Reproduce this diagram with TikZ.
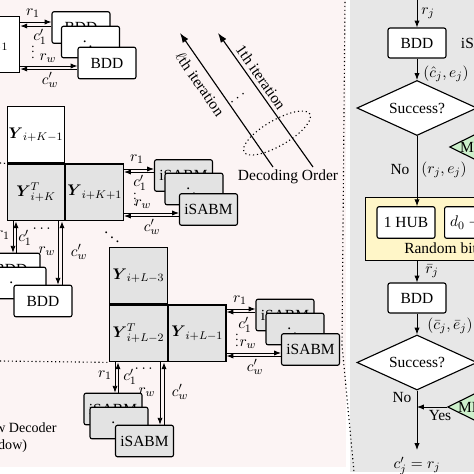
\documentclass[tikz,border=0pt]{standalone}
\usepackage{amsmath}
\usepackage{fontspec}
\setmainfont{Liberation Serif}
\usetikzlibrary{arrows.meta, positioning, shapes.geometric, calc}
\definecolor{bgpink}{HTML}{FCF4F4}
\definecolor{panelgray}{HTML}{E7E7E7}
\definecolor{blockgray}{HTML}{E3E3E3}
\definecolor{hubyellow}{HTML}{FFF6C8}
\definecolor{mdgreen}{HTML}{CCEFCB}

\begin{document}
\begin{tikzpicture}[x=0.025cm, y=-0.025cm,
    every node/.style={align=center, font=\fontsize{11}{13}\selectfont},
    yblk/.style={draw, thick, fill=blockgray, minimum width=1.44cm,
                 minimum height=1.42cm, inner sep=0},
    bdd/.style={draw, thick, rounded corners=1.5pt, fill=white,
                minimum width=1.45cm, minimum height=0.79cm, inner sep=0},
    sabm/.style={bdd, fill=blockgray},
    dec/.style={draw, thick, shape=diamond, aspect=2.2, fill=white,
                minimum width=3cm, minimum height=1.375cm, inner sep=0},
    mdec/.style={draw, thick, shape=diamond, aspect=2, fill=mdgreen,
                 minimum width=1.3cm, minimum height=0.65cm, inner sep=0},
    win/.style={dotted, thick},
    lbl/.style={inner sep=1pt},
    dts/.style={inner sep=0, font=\small},
    arr/.style={-{Latex[length=1.7mm, width=1.3mm]}, semithick}
]
    \useasboundingbox (0,0) rectangle (474,474);
    \clip (0,0) rectangle (474,474);

    % Backgrounds
    \fill[bgpink] (-5,-5) rectangle (346,467);
    \fill[panelgray] (350,-5) rectangle (480,472);

    % Previous window block (cut at left)
    \node[yblk, fill=white] (y0) at (-9,44.5) {$\boldsymbol{Y}_{i-1}$};

    % BDD stack, top
    \node[bdd] (bA1) at (81,27.5) {BDD};
    \node[bdd] (bA2) at (90.5,42) {$\ddots$};
    \node[bdd] (bA3) at (107,63) {BDD};

    \draw[arr] (y0.east |- 0,22) -- (bA1.west |- 0,22);
    \draw[arr] (bA1.west |- 0,26) -- (y0.east |- 0,26);
    \draw[arr] (y0.east |- 0,66) -- (bA3.west |- 0,66);
    \draw[arr] (bA3.west |- 0,69) -- (y0.east |- 0,69);
    \node[lbl] at (33,13) {$r_1$};
    \node[lbl] at (40,37) {$c'_1$};
    \node[dts] at (33,48) {$\vdots$};
    \node[lbl] at (48,58) {$r_w$};
    \node[lbl] at (50,80) {$c'_w$};

    % Group 1: blocks of window K
    \node[yblk, fill=white] (yA) at (36,134.5) {$\boldsymbol{Y}_{i+K-1}$};
    \node[yblk, below=0pt of yA] (yAT) {$\boldsymbol{Y}^T_{i+K}$};
    \node[yblk, right=0pt of yAT] (yAR) {$\boldsymbol{Y}_{i+K+1}$};
    \draw[win] (0,163) -- (yAT.north west);

    % iSABM stack, group 1
    \node[sabm] (sA1) at (183.5,175.5) {iSABM};
    \node[sabm] (sA2) at (194,189) {$\ddots$};
    \node[sabm] (sA3) at (208.5,209.5) {iSABM};

    \draw[arr] (yAR.east |- 0,169) -- (sA1.west |- 0,169);
    \draw[arr] (sA1.west |- 0,172) -- (yAR.east |- 0,172);
    \draw[arr] (yAR.east |- 0,213) -- (sA3.west |- 0,213);
    \draw[arr] (sA3.west |- 0,216) -- (yAR.east |- 0,216);
    \node[lbl] at (137,159) {$r_1$};
    \node[lbl] at (140,183) {$c'_1$};
    \node[dts] at (135,195) {$\vdots$};
    \node[lbl] at (143,204) {$r_w$};
    \node[lbl] at (152,227) {$c'_w$};

    % BDD stack below group 1
    \node[bdd] (bB1) at (11,269) {BDD};
    \node[bdd] (bB2) at (17,283) {$\ddots$};
    \node[bdd] (bB3) at (43,301) {BDD};

    \draw[arr] (yAT.south -| 13,0) -- (bB1.north -| 13,0);
    \draw[arr] (bB1.north -| 16,0) -- (yAT.south -| 16,0);
    \draw[arr] (yAT.south -| 58,0) -- (bB3.north -| 58,0);
    \draw[arr] (bB3.north -| 62,0) -- (yAT.south -| 62,0);
    \node[lbl] at (3,235) {$r_1$};
    \node[lbl] at (25,238) {$c'_1$};
    \node[lbl] at (43,229) {$\cdots$};
    \node[lbl] at (47,251) {$r_w$};
    \node[lbl] at (79,252) {$c'_w$};

    \node[lbl] at (112,233) {$\ddots$};

    % Group 2: blocks of window L
    \node[yblk] (yB) at (138.5,275.5) {$\boldsymbol{Y}_{i+L-3}$};
    \node[yblk, below=0pt of yB] (yBT) {$\boldsymbol{Y}^T_{i+L-2}$};
    \node[yblk, right=0pt of yBT] (yBR) {$\boldsymbol{Y}_{i+L-1}$};
    \draw[win] (0,361) -- (yBT.south west);

    % iSABM stack, group 2 right
    \node[sabm] (sB1) at (285,315) {iSABM};
    \node[sabm] (sB2) at (295,329) {$\ddots$};
    \node[sabm] (sB3) at (310.5,349.5) {iSABM};

    \draw[arr] (yBR.east |- 0,309) -- (sB1.west |- 0,309);
    \draw[arr] (sB1.west |- 0,312) -- (yBR.east |- 0,312);
    \draw[arr] (yBR.east |- 0,353) -- (sB3.west |- 0,353);
    \draw[arr] (sB3.west |- 0,356) -- (yBR.east |- 0,356);
    \node[lbl] at (240,300) {$r_1$};
    \node[lbl] at (245,325) {$c'_1$};
    \node[dts] at (237,336) {$\vdots$};
    \node[lbl] at (248,344) {$r_w$};
    \node[lbl] at (255,367) {$c'_w$};

    % iSABM stack, group 2 below
    \node[sabm] (sC1) at (113,409) {iSABM};
    \node[sabm] (sC2) at (119,423) {$\ddots$};
    \node[sabm] (sC3) at (144.5,441) {iSABM};

    \draw[arr] (yBT.south -| 115,0) -- (sC1.north -| 115,0);
    \draw[arr] (sC1.north -| 118,0) -- (yBT.south -| 118,0);
    \draw[arr] (yBT.south -| 160,0) -- (sC3.north -| 160,0);
    \draw[arr] (sC3.north -| 164,0) -- (yBT.south -| 164,0);
    \node[lbl] at (105,375) {$r_1$};
    \node[lbl] at (130,377) {$c'_1$};
    \node[lbl] at (145,369) {$\cdots$};
    \node[lbl] at (147,392) {$r_w$};
    \node[lbl] at (180,392) {$c'_w$};

    \node[font=\fontsize{10}{12}\selectfont] (swd) at (-15,438)
          {Sliding Window Decoder\\(One Window)};

    % Decoding order
    \coordinate (itLs) at (273,167);
    \coordinate (itLe) at (180,33);
    \coordinate (it1s) at (313,167);
    \coordinate (it1e) at (218,33);
    \draw[-{Latex[length=2.4mm, width=1.7mm]}, thick] (itLs) -- (itLe);
    \draw[-{Latex[length=2.4mm, width=1.7mm]}, thick] (it1s) -- (it1e);
    \node[rotate=-55.2] at (200,84) {$\ell$th iteration};
    \node[rotate=-55.2] at (261,77) {1th iteration};
    \node[rotate=35] at (239,98) {$\cdots$};
    \node[draw, win, ellipse, minimum width=1.9cm, minimum height=0.64cm,
          rotate=30] (ordring) at (277,133) {};
    \node (ordtxt) at (288,177) {Decoding Order};

    % Zoom lines
    \draw[win] (345,-2) -- (342,345) -- (354,472);

    % iSABM flowchart
    \coordinate (rin) at (417,-5);
    \node[bdd, minimum height=0.75cm] (bR1) at (417,43) {BDD};
    \node[anchor=west] (ttl) at (456,43) {iSABM};
    \draw[arr] (rin) -- (bR1.north);
    \node[lbl] at (428,13) {$r_j$};

    \node[dec] (dR1) at (417,108) {Success?};
    \draw[arr] (bR1.south) -- (dR1.north);
    \node[lbl] at (446,74) {$(\hat{c}_j, e_j)$};
    \node[mdec] (mR1) at (476,147) {MD?};

    \node[draw, thick, fill=hubyellow, minimum width=4cm, minimum height=1.575cm,
          anchor=north west] (rbf) at (365,197) {};
    \node[bdd] (hub) at (406,222.5) {1 HUB};
    \node[bdd, anchor=west, text width=2.2cm, align=left, inner xsep=4pt]
          (lrb) at (444,222.5) {$d_0-1$ LRBs};
    \node[anchor=west, inner sep=0] (rbftxt) at (404,250) {Random bit flipping};
    \draw[arr] (dR1.south) -- (hub.north -| dR1.south);
    \node[lbl] at (400,170) {No};
    \node[lbl] at (444,170) {$(r_j, e_j)$};

    \node[bdd, minimum height=0.75cm] (bR2) at (417,298) {BDD};
    \draw[arr] (rbf.south -| bR2.north) -- (bR2.north);
    \node[lbl] at (432,271) {$\bar{r}_j$};

    \node[dec] (dR2) at (417,362.5) {Success?};
    \draw[arr] (bR2.south) -- (dR2.north);
    \node[lbl] at (450,326) {$(\bar{c}_j, \bar{e}_j)$};

    \coordinate (cout) at (417,450);
    \draw[arr] (dR2.south) -- (cout);
    \node[lbl] at (402,398) {No};
    \node (cfin) at (417,466) {$c'_j = r_j$};

    \node[mdec] (mR2) at (474,407) {MD?};
    \coordinate (yesin) at (417,407);
    \draw[arr] (mR2.west) -- (yesin);
    \node[lbl] at (440,416) {Yes};
\end{tikzpicture}
\end{document}
